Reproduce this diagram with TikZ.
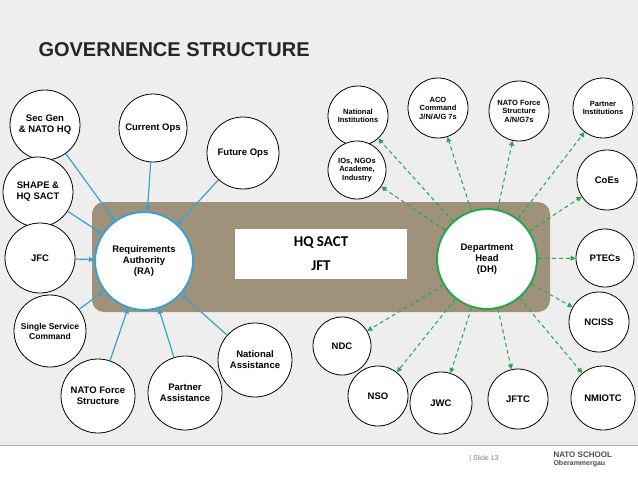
\documentclass[tikz,border=0pt]{standalone}
\usepackage{fontspec}
\setmainfont{Liberation Sans}
\newfontfamily\calfont{Carlito}
\usetikzlibrary{arrows.meta}
\definecolor{bluearr}{RGB}{60,160,205}
\definecolor{greenarr}{RGB}{40,165,80}
\definecolor{brownbox}{RGB}{160,146,122}
\definecolor{bgray}{RGB}{238,238,238}
\tikzset{
  circ/.style={circle,draw=black,fill=white,line width=0.8pt,inner sep=0pt,align=center,font=\bfseries\fontsize{9.5}{11}\selectfont},
  smallc/.style={circ,font=\bfseries\fontsize{7.5}{8.5}\selectfont},
  barr/.style={draw=bluearr,line width=1.2pt,-{Triangle[length=5pt,width=5pt]}},
  garr/.style={draw=greenarr,line width=1pt,dashed,dash pattern=on 4pt off 3pt,-{Triangle[length=5pt,width=5pt]}}
}
\begin{document}
\begin{tikzpicture}[x=1pt,y=-1pt]
\useasboundingbox (0,0) rectangle (638,479);
\fill[bgray] (0,0) rectangle (638,479);
\fill[white] (0,445) rectangle (638,479);
\draw[gray!60] (0,445) -- (638,445);
\node[anchor=west,font=\bfseries\fontsize{20}{24}\selectfont,text=black!85] (title) at (35,50) {GOVERNENCE STRUCTURE};
\node[font=\fontsize{7}{8}\selectfont,text=gray] (slide) at (484,459) {| Slide 13};
\node[anchor=west,font=\bfseries\fontsize{8}{9}\selectfont,text=black!70,align=left] (logo) at (550,459) {NATO SCHOOL\\[-1pt]\fontsize{7}{8}\selectfont Oberammergau};
\fill[brownbox,rounded corners=12pt] (92,202) rectangle (550,312);
\node[fill=white,minimum width=172pt,minimum height=50pt,inner sep=0pt,align=center,font=\calfont\bfseries\fontsize{15}{24}\selectfont] (hq) at (321,254) {HQ SACT\\JFT};
% RA side
\node[circ,draw=bluearr,line width=2pt,minimum size=98pt] (ra) at (144,261) {Requirements\\Authority\\(RA)};
\node[circ,minimum size=70pt] (sg) at (45,125) {Sec Gen\\\& NATO HQ};
\node[circ,minimum size=68pt] (co) at (153,128) {Current Ops};
\node[circ,minimum size=72pt] (fo) at (243,153) {Future Ops};
\node[circ,minimum size=70pt] (sh) at (38,192) {SHAPE \&\\HQ SACT};
\node[circ,minimum size=70pt] (jfc) at (40,258) {JFC};
\node[circ,minimum size=72pt,font=\bfseries\fontsize{8.5}{10}\selectfont] (ss) at (50,331) {Single Service\\Command};
\node[circ,minimum size=74pt] (nfs) at (98,396) {NATO Force\\Structure};
\node[circ,minimum size=74pt] (pa) at (185,393) {Partner\\Assistance};
\node[circ,minimum size=74pt] (na) at (255,360) {National\\Assistance};
\foreach \n in {sg,co,fo,sh,jfc,ss,nfs,pa,na} \draw[barr] (\n) -- (ra);
% DH side
\node[circ,draw=greenarr,line width=2pt,minimum size=100pt] (dh) at (487,259) {Department\\Head\\(DH)};
\node[smallc,minimum size=60pt] (ni) at (358,116) {National\\Institutions};
\node[smallc,minimum size=60pt] (aco) at (438,108) {ACO\\Command\\J/N/A/G 7s};
\node[smallc,minimum size=60pt] (nfs2) at (519,111) {NATO Force\\Structure\\A/N/G7s};
\node[smallc,minimum size=60pt] (pi) at (603,108) {Partner\\Institutions};
\node[smallc,minimum size=58pt] (ios) at (357,170) {IOs, NGOs\\Academe,\\Industry};
\node[circ,minimum size=60pt] (coe) at (607,180) {CoEs};
\node[circ,minimum size=58pt] (pt) at (605,258) {PTECs};
\node[circ,minimum size=60pt] (nc) at (599,322) {NCISS};
\node[circ,minimum size=64pt] (nm) at (603,398) {NMIOTC};
\node[circ,minimum size=58pt] (ndc) at (342,346) {NDC};
\node[circ,minimum size=60pt] (nso) at (378,396) {NSO};
\node[circ,minimum size=62pt] (jwc) at (441,403) {JWC};
\node[circ,minimum size=60pt] (jftc) at (518,399) {JFTC};
\foreach \n in {ni,aco,nfs2,pi,ios,coe,pt,nc,nm,ndc,nso,jwc,jftc} \draw[garr] (dh) -- (\n);
\end{tikzpicture}
\end{document}
